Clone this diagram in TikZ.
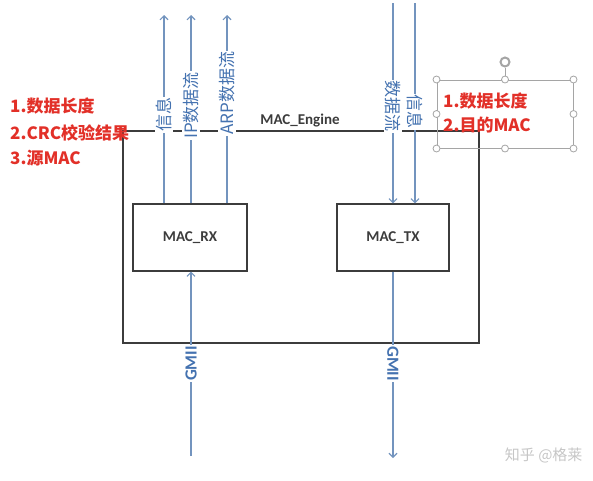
\documentclass[tikz,border=0pt]{standalone}
\usepackage{fontspec}
\setmainfont{Carlito}
\newfontfamily\cjk{Noto Sans CJK SC}
\usetikzlibrary{arrows.meta}
\definecolor{bl}{RGB}{115,148,190}
\definecolor{blt}{RGB}{68,114,176}
\definecolor{rd}{RGB}{226,48,40}
\definecolor{frm}{RGB}{60,60,60}
\definecolor{hdl}{RGB}{165,165,165}
\tikzset{
  frame/.style={draw=frm, line width=1.4pt},
  blk/.style={draw=frm, line width=1.3pt, minimum width=114pt, minimum height=67pt,
    text=frm, font=\bfseries\fontsize{15}{15}\selectfont},
  flow/.style={draw=bl, line width=1.1pt, -{Straight Barb[length=4pt,width=8pt]}},
  flowlbl/.style={fill=white, text=blt, inner sep=1pt, font=\cjk\fontsize{17}{17}\selectfont},
  gmlbl/.style={fill=white, text=blt, inner sep=1pt, font=\bfseries\fontsize{17}{17}\selectfont},
  redtxt/.style={text=rd, font=\cjk\bfseries\fontsize{17}{17}\selectfont, anchor=west, inner sep=0pt},
  handle/.style={circle, draw=hdl, fill=white, line width=0.8pt, minimum size=7pt, inner sep=0pt}
}
\begin{document}
\begin{tikzpicture}[x=1pt,y=-1pt]
\useasboundingbox (0,0) rectangle (593,480);
% outer engine frame
\node[frame, minimum width=356pt, minimum height=212pt] (eng) at (301,237) {};
\node[font=\bfseries\fontsize{15}{15}\selectfont, text=frm] (engl) at (300,121) {MAC\_Engine};
% blocks
\node[blk] (rx) at (190,237.5) {MAC\_RX};
\node[blk, minimum width=112pt] (tx) at (393,237.5) {MAC\_TX};
% RX outputs
\coordinate (rxa) at (164,15);
\coordinate (rxb) at (191,15);
\coordinate (rxc) at (227,15);
\draw[flow] (rx.north -| rxa) -- (rxa);
\draw[flow] (rx.north -| rxb) -- (rxb);
\draw[flow] (rx.north -| rxc) -- (rxc);
% TX inputs
\coordinate (txa) at (393,3);
\coordinate (txb) at (415,3);
\draw[flow] (txa) -- (tx.north -| txa);
\draw[flow] (txb) -- (tx.north -| txb);
% GMII
\coordinate (g1) at (191,456);
\coordinate (g2) at (393,458);
\draw[flow] (g1) -- (rx.south -| g1);
\draw[flow] (tx.south -| g2) -- (g2);
% flow labels
\node[flowlbl, rotate=90, anchor=west] (la) at (164,133) {信息};
\node[flowlbl, rotate=90, anchor=west] (lb) at (191,140) {IP数据流};
\node[flowlbl, rotate=90, anchor=west] (lc) at (227,136) {ARP数据流};
\node[flowlbl, rotate=-90, anchor=east] (ld) at (393,133) {数据流};
\node[flowlbl, rotate=-90, anchor=east] (le) at (415,130) {信息};
\node[gmlbl, rotate=90, anchor=east] (gm1) at (191,345) {GMII};
\node[gmlbl, rotate=-90, anchor=west] (gm2) at (393,345) {GMII};
% red notes left
\node[redtxt] (l1) at (10,106) {1.数据长度};
\node[redtxt] (l2) at (10,133) {2.CRC校验结果};
\node[redtxt] (l3) at (10,158) {3.源MAC};
% selection box on the right
\node[draw=hdl, line width=1pt, minimum width=136pt, minimum height=68pt] (sel) at (505,114) {};
\node[circle, draw=hdl, line width=2pt, minimum size=9pt, inner sep=0pt] (rot) at (505,62) {};
\draw[hdl, line width=1pt] (sel.north) -- (rot.south);
\foreach \a [count=\i] in {north west, north, north east, east, south east, south, south west, west}
  \node[handle] (h\i) at (sel.\a) {};
\node[redtxt] (r1) at (443,101) {1.数据长度};
\node[redtxt] (r2) at (443,125) {2.目的MAC};
% watermark
\node[text=gray!45, font=\cjk\fontsize{15}{15}\selectfont, anchor=east] (wm) at (586,455) {知乎 @格莱};
\end{tikzpicture}
\end{document}
